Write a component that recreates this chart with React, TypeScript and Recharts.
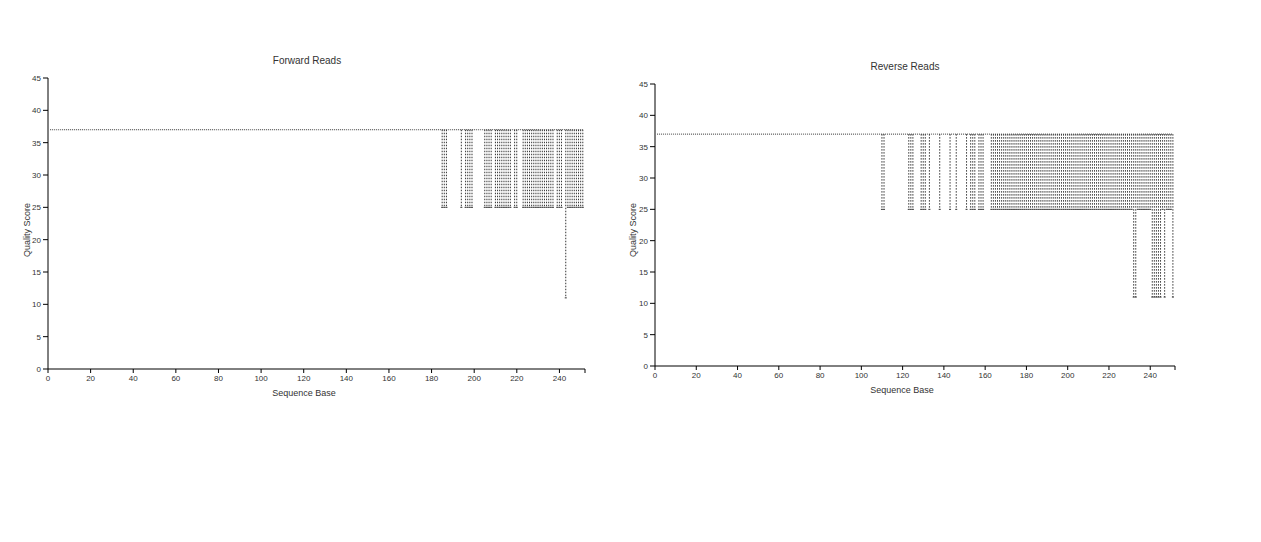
import React from 'react';
import { ComposedChart, Bar, Line, XAxis, YAxis } from 'recharts';

// sequence positions of each read
const BASE_COUNT = 251;

// forward reads: positions whose lower whisker reaches 25 / 11 (everything else sits at 37)
const FWD_MIN_25 = [
  185, 186, 187, 194, 196, 197, 198, 199, 205, 206, 207, 208, 210, 211, 212, 213, 214, 215, 216, 217,
  219, 220, 223, 224, 225, 226, 227, 228, 229, 230, 231, 232, 233, 234, 235, 236, 237, 239, 240, 241,
  244, 245, 246, 247, 248, 249, 250, 251,
];
const FWD_MIN_11 = [243];

// reverse reads
const REV_MIN_25 = [
  110, 111, 123, 124, 125, 129, 130, 131, 133, 138, 143, 146, 151, 153, 154, 155, 157, 158, 159,
  163, 164, 165, 166, 167, 168, 169, 170, 171, 172, 173, 174, 175, 176, 177, 178, 179, 180, 181, 182,
  183, 184, 185, 186, 187, 188, 189, 190, 191, 192, 193, 194, 195, 196, 197, 198, 199, 200, 201, 202,
  203, 204, 205, 206, 207, 208, 209, 210, 211, 212, 213, 214, 215, 216, 217, 218, 219, 220, 221, 222,
  223, 224, 225, 226, 227, 228, 229, 230, 231, 234, 235, 236, 237, 238, 239, 240, 246, 248, 249, 250,
];
const REV_MIN_11 = [232, 233, 241, 242, 243, 244, 245, 247, 251];

const MEDIAN = 37;
const X_TICKS = [0, 20, 40, 60, 80, 100, 120, 140, 160, 180, 200, 220, 240, 252];
const Y_TICKS = [0, 5, 10, 15, 20, 25, 30, 35, 40, 45];

const FONT = '"Liberation Sans", Arial, sans-serif';

function buildRows(min25: number[], min11: number[]) {
  const rows = [];
  for (let b = 1; b <= BASE_COUNT; b++) {
    let low: number | null = null;
    if (min11.includes(b)) low = 11;
    else if (min25.includes(b)) low = 25;
    rows.push({ base: b, median: MEDIAN, range: low === null ? null : [low, MEDIAN] });
  }
  return rows;
}

function Whisker(props: any) {
  const { x, y, width, height } = props;
  if (!height || height <= 0) return null;
  const cx = x + width / 2;
  return (
    <g>
      <line x1={cx} y1={y} x2={cx} y2={y + height} stroke="#333" strokeWidth={1} strokeDasharray="1.5 1.5" />
      <line x1={cx - 1} y1={y + height} x2={cx + 1} y2={y + height} stroke="#333" strokeWidth={1} />
    </g>
  );
}

const tickStyle = { fontSize: 8, fill: '#333', fontFamily: FONT };

function ReadsChart({
  rows,
  margin,
}: {
  rows: any[];
  margin: { top: number; right: number; bottom: number; left: number };
}) {
  return (
    <ComposedChart width={620} height={420} data={rows} margin={margin}>
      <XAxis
        type="number"
        dataKey="base"
        domain={[0, 252]}
        ticks={X_TICKS}
        tickFormatter={(v) => (v === 252 ? '' : String(v))}
        tick={tickStyle}
        tickSize={4}
        height={30}
        stroke="#000"
        interval={0}
      />
      <YAxis
        type="number"
        domain={[0, 45]}
        ticks={Y_TICKS}
        tick={tickStyle}
        tickSize={5}
        width={30}
        stroke="#000"
        interval={0}
      />
      <Bar dataKey="range" barSize={2} shape={<Whisker />} isAnimationActive={false} />
      <Line
        dataKey="median"
        stroke="#333"
        strokeWidth={1}
        strokeDasharray="1 1"
        dot={false}
        activeDot={false}
        isAnimationActive={false}
      />
    </ComposedChart>
  );
}

function Text({ x, y, size, children, rotate }: any) {
  return (
    <div
      style={{
        position: 'absolute',
        left: x,
        top: y,
        transform: `translate(-50%, -50%)${rotate ? ' rotate(-90deg)' : ''}`,
        fontFamily: FONT,
        fontSize: size,
        color: '#333',
        whiteSpace: 'nowrap',
      }}
    >
      {children}
    </div>
  );
}

export default function App() {
  const fwd = buildRows(FWD_MIN_25, FWD_MIN_11);
  const rev = buildRows(REV_MIN_25, REV_MIN_11);
  return (
    <div style={{ position: 'absolute', left: 0, top: 0, width: 1261, height: 542, background: '#fff' }}>
      <div style={{ position: 'absolute', left: 0, top: 0 }}>
        <ReadsChart rows={fwd} margin={{ top: 78, right: 35, bottom: 21, left: 18 }} />
      </div>
      <div style={{ position: 'absolute', left: 610, top: 0 }}>
        <ReadsChart rows={rev} margin={{ top: 84, right: 55, bottom: 24, left: 15 }} />
      </div>
      <Text x={307} y={60} size={10}>Forward Reads</Text>
      <Text x={304} y={393} size={9}>Sequence Base</Text>
      <Text x={27} y={230} size={9} rotate>Quality Score</Text>
      <Text x={905} y={66} size={10}>Reverse Reads</Text>
      <Text x={902} y={390} size={9}>Sequence Base</Text>
      <Text x={633} y={230} size={9} rotate>Quality Score</Text>
    </div>
  );
}
